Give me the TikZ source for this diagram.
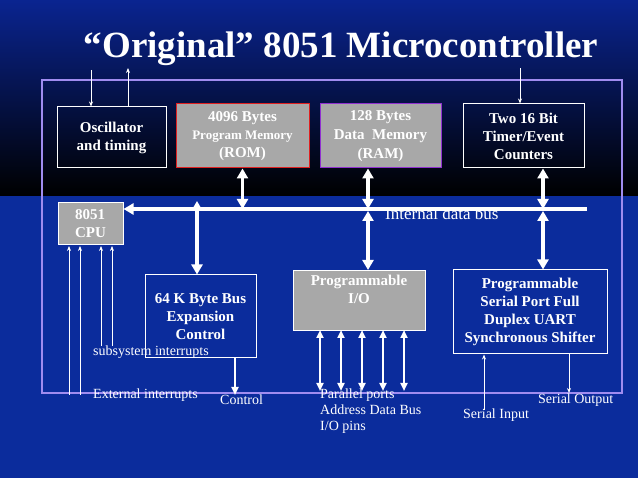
\documentclass[tikz,border=0pt]{standalone}
\usepackage{fontspec}
\setmainfont{Liberation Serif}
\usetikzlibrary{arrows.meta,calc}
\definecolor{bgblue}{HTML}{0B2C9C}
\definecolor{topblue}{HTML}{0A2490}
\definecolor{frame}{HTML}{A08CF0}
\definecolor{boxgray}{HTML}{A8A8A8}
\definecolor{romred}{HTML}{E02020}
\definecolor{rampurple}{HTML}{9030D0}
\tikzset{
  blk/.style={draw=white, line width=1pt, text=white, font=\bfseries\fontsize{15}{18}\selectfont, align=center, inner sep=1pt},
  gblk/.style={blk, fill=boxgray},
  fat/.style={line width=3.5pt, white, -{Triangle[width=11pt,length=10pt]}},
  fatd/.style={line width=3.5pt, white, {Triangle[width=11pt,length=10pt]}-{Triangle[width=11pt,length=10pt]}},
  iod/.style={line width=2pt, white, {Triangle[width=7pt,length=8pt]}-{Triangle[width=7pt,length=8pt]}},
  thin/.style={line width=0.8pt, white, -{Stealth[width=4pt,length=5pt]}},
  lbl/.style={text=white, font=\fontsize{14}{16}\selectfont, inner sep=0pt, anchor=north west, align=left}
}
\begin{document}
\begin{tikzpicture}[x=1pt,y=-1pt]
\useasboundingbox (0,0) rectangle (638,478);
\shade[top color=topblue, bottom color=black] (0,0) rectangle (638,196);
\fill[bgblue] (0,196) rectangle (638,478);
% title
\node (title) [text=white, font=\bfseries\fontsize{37}{40}\selectfont] at (341,49) {“Original” 8051 Microcontroller};
% frame
\draw[frame, line width=1.5pt] (42,80) rectangle (622,393);
% blocks
\node[blk, minimum width=109, minimum height=61] (osc) at (111.5,137.5) {Oscillator\\and timing};
\node[gblk, draw=romred, minimum width=133, minimum height=64] (rom) at (242.5,136) {4096 Bytes\\{\fontsize{13}{16}\selectfont Program Memory}\\(ROM)};
\node[gblk, draw=rampurple, minimum width=121, minimum height=64, font=\fontsize{15}{19}\selectfont\bfseries] (ram) at (380.5,136) {128 Bytes\\Data\ \ Memory\\(RAM)};
\node[blk, minimum width=121, minimum height=64] (tim) at (523.5,136) {Two 16 Bit\\Timer/Event\\Counters};
\node[gblk, minimum width=65, minimum height=42, align=left] (cpu) at (90.5,224) {8051\\CPU};
\node[blk, minimum width=111, minimum height=83] (exp) at (200.5,316.5) {64 K Byte Bus\\Expansion\\Control};
\node[gblk, minimum width=132, minimum height=60, anchor=north, text depth=22pt] (pio) at (359,270) {Programmable\\I/O};
\node[blk, minimum width=154, minimum height=84] (ser) at (530,312) {Programmable\\Serial Port Full\\Duplex UART\\Synchronous Shifter};
% bus
\coordinate (busR) at (587,209);
\draw[fat] (busR) -- (cpu.east |- busR);
\node[text=white, font=\fontsize{17}{20}\selectfont, anchor=south west, inner sep=0pt] (busl) at (385,220) {Internal data bus};
\coordinate (ramx) at (368,0);
\coordinate (timx) at (543,0);
\draw[fatd] (rom.south) -- (rom.south |- busR);
\draw[fatd] (ram.south -| ramx) -- (ramx |- busR);
\draw[fatd] (tim.south -| timx) -- (timx |- busR);
\draw[fatd] (ramx |- 0,211) -- (pio.north -| ramx);
\draw[fatd] (timx |- 0,211) -- (ser.north -| timx);
\draw[fatd] (exp.north -| 197,0) -- (197,201);
% control
\coordinate (ctl) at (235,395);
\draw[line width=2pt, white, -{Triangle[width=7pt,length=8pt]}] (exp.south -| ctl) -- (ctl);
\node[lbl] (ctll) at (220,395) {Control};
% IO pins
\foreach \x in {320,341,362,383,404} \draw[iod] (\x,330) -- (\x,391);
\node[lbl] (pp) at (320,389) {Parallel ports\\Address Data Bus\\I/O pins};
% interrupts
\foreach \x in {69,80} \draw[thin] (\x,395) -- (\x,246);
\foreach \x in {101,112} \draw[thin] (\x,346) -- (\x,246);
\node[lbl] (sub) at (93,346) {subsystem interrupts};
\node[lbl] (ext) at (93,389) {External interrupts};
% oscillator / timer inputs
\draw[thin] (91,70) -- (osc.north -| 91,0);
\draw[thin] (osc.north -| 128,0) -- (128,68);
\draw[thin] (520,68) -- (tim.north -| 520,0);
% serial
\coordinate (sin) at (484,410);
\coordinate (sout) at (569,393);
\draw[thin] (sin) -- (ser.south -| sin);
\draw[thin] (ser.south -| sout) -- (sout);
\node[lbl] (sinl) at (463,409) {Serial Input};
\node[lbl] (soutl) at (538,394) {Serial Output};
\end{tikzpicture}
\end{document}
